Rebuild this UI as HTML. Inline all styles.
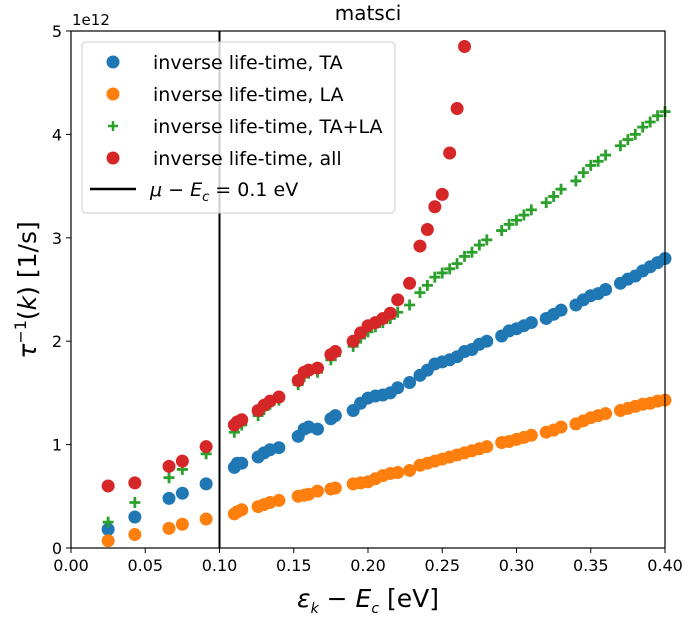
<!DOCTYPE html>
<html><head><meta charset="utf-8"><style>
body{margin:0;background:#fff}
svg{font-family:"DejaVu Sans","Liberation Sans",sans-serif}
</style></head><body>
<svg id="chart" width="685" height="615" viewBox="0 0 685 615">
<text x="368" y="20" font-size="20" text-anchor="middle">matsci</text>
<text x="72" y="25" font-size="15">1e12</text>
<g id="plot"></g>
<g id="axes"></g>
<text transform="translate(36,290) rotate(-90)" font-size="25" text-anchor="middle" font-style="italic">τ<tspan font-style="normal" font-size="16" dy="-10">−1</tspan><tspan font-style="normal" dy="10">(</tspan>k<tspan font-style="normal">)  [1/s]</tspan></text>
<text x="368" y="607" font-size="25" text-anchor="middle"><tspan font-style="italic">ε</tspan><tspan font-size="14" font-style="italic" dy="6">k</tspan><tspan dy="-6"> − </tspan><tspan font-style="italic">E</tspan><tspan font-size="14" font-style="italic" dy="6">c</tspan><tspan dy="-6">  [eV]</tspan></text>
<g>
<rect x="82" y="42" width="313" height="171" rx="4" fill="#fff" fill-opacity="0.8" stroke="#ccc"/>
<circle cx="113" cy="62" r="6.5" fill="#1f77b4"/><text x="153" y="69" font-size="19">inverse life-time, TA</text>
<circle cx="113" cy="94" r="6.5" fill="#ff7f0e"/><text x="153" y="101" font-size="19">inverse life-time, LA</text>
<path d="M108 126h10M113 121v10" stroke="#2ca02c" stroke-width="2.5"/><text x="153" y="133" font-size="19">inverse life-time, TA+LA</text>
<circle cx="113" cy="158" r="6.5" fill="#d62728"/><text x="153" y="165" font-size="19">inverse life-time, all</text>
<path d="M90 189h46" stroke="#000" stroke-width="2.5"/><text x="150" y="196" font-size="19"><tspan font-style="italic">μ</tspan> − <tspan font-style="italic">E</tspan><tspan font-size="13" font-style="italic" dy="5">c</tspan><tspan dy="-5"> = 0.1 eV</tspan></text>
</g>
</svg>
<script>
const xVals=[0.025,0.043,0.066,0.075,0.091,0.11,0.112,0.115,0.126,0.13,0.134,0.14,0.153,0.157,0.16,0.166,0.175,0.178,0.19,0.195,0.2,0.205,0.21,0.215,0.22,0.228,0.235,0.24,0.245,0.25,0.255,0.26,0.265,0.27,0.275,0.28,0.29,0.295,0.3,0.305,0.31,0.32,0.325,0.33,0.34,0.345,0.35,0.355,0.36,0.37,0.375,0.38,0.385,0.39,0.395,0.4];
const taVals=[0.18,0.30,0.48,0.53,0.62,0.78,0.82,0.82,0.88,0.92,0.95,0.97,1.08,1.15,1.17,1.15,1.25,1.28,1.33,1.40,1.45,1.47,1.48,1.50,1.55,1.60,1.67,1.72,1.78,1.80,1.82,1.85,1.90,1.92,1.97,2.00,2.05,2.10,2.12,2.15,2.18,2.22,2.26,2.30,2.35,2.40,2.44,2.46,2.50,2.56,2.60,2.63,2.68,2.72,2.76,2.80];
const laVals=[0.07,0.13,0.19,0.23,0.28,0.33,0.35,0.37,0.40,0.42,0.44,0.46,0.50,0.51,0.52,0.55,0.57,0.58,0.62,0.63,0.64,0.67,0.70,0.72,0.73,0.75,0.80,0.82,0.84,0.86,0.88,0.90,0.92,0.94,0.96,0.98,1.02,1.03,1.05,1.07,1.09,1.12,1.14,1.17,1.20,1.23,1.26,1.28,1.30,1.33,1.35,1.37,1.39,1.40,1.42,1.43];
const sumVals=[0.25,0.44,0.68,0.76,0.91,1.12,1.17,1.19,1.28,1.34,1.39,1.43,1.58,1.66,1.69,1.70,1.82,1.86,1.95,2.03,2.09,2.14,2.18,2.22,2.28,2.35,2.47,2.54,2.62,2.66,2.70,2.75,2.82,2.86,2.93,2.98,3.07,3.13,3.17,3.22,3.27,3.34,3.40,3.47,3.55,3.63,3.70,3.74,3.80,3.89,3.95,4.00,4.07,4.12,4.18,4.22];
const allVals=[0.60,0.63,0.79,0.84,0.98,1.19,1.22,1.24,1.33,1.38,1.42,1.46,1.62,1.70,1.72,1.74,1.87,1.90,2.00,2.08,2.15,2.18,2.22,2.27,2.40,2.56,2.92,3.08,3.30,3.42,3.82,4.25,4.85];
const xTicks=[0,0.05,0.1,0.15,0.2,0.25,0.3,0.35,0.4];
const xTickLabels=["0.00","0.05","0.10","0.15","0.20","0.25","0.30","0.35","0.40"];
const yTicks=[0,1,2,3,4,5];
const muLine=0.1;
const L=71,R=665,T=31,B=548;
const sx=v=>L+(v-0)/(0.4)*(R-L);
const sy=v=>B-(v/5)*(B-T);
const NS="http://www.w3.org/2000/svg";
const plot=document.getElementById('plot'),axes=document.getElementById('axes');
function mk(tag,attrs,parent){const e=document.createElementNS(NS,tag);for(const k in attrs)e.setAttribute(k,attrs[k]);parent.appendChild(e);return e;}
function dots(vals,color,name){vals.forEach((v,i)=>{const c=mk('circle',{cx:sx(xVals[i]),cy:sy(v),r:6.5,fill:color},plot);

});}
dots(taVals,'#1f77b4','ta-point');
dots(laVals,'#ff7f0e','la-point');
sumVals.forEach((v,i)=>{const x=sx(xVals[i]),y=sy(v);const p=mk('path',{d:`M${x-5.5} ${y}h11M${x} ${y-5.5}v11`,stroke:'#2ca02c','stroke-width':2.8},plot);

});
dots(allVals,'#d62728','all-point');
const ml=mk('line',{x1:sx(muLine),x2:sx(muLine),y1:T,y2:B,stroke:'#000','stroke-width':2},plot);


mk('rect',{x:L,y:T,width:R-L,height:B-T,fill:'none',stroke:'#000','stroke-width':1.2},axes);
xTicks.forEach((t,i)=>{const x=sx(t);mk('line',{x1:x,x2:x,y1:B,y2:B+5,stroke:'#000'},axes);
const tx=mk('text',{x:x,y:B+23,'font-size':16,'text-anchor':'middle'},axes);tx.textContent=xTickLabels[i];

});
yTicks.forEach(t=>{const y=sy(t);mk('line',{x1:L-5,x2:L,y1:y,y2:y,stroke:'#000'},axes);
const tx=mk('text',{x:L-9,y:y+6,'font-size':16,'text-anchor':'end'},axes);tx.textContent=String(t);

});
</script>
</body></html>
